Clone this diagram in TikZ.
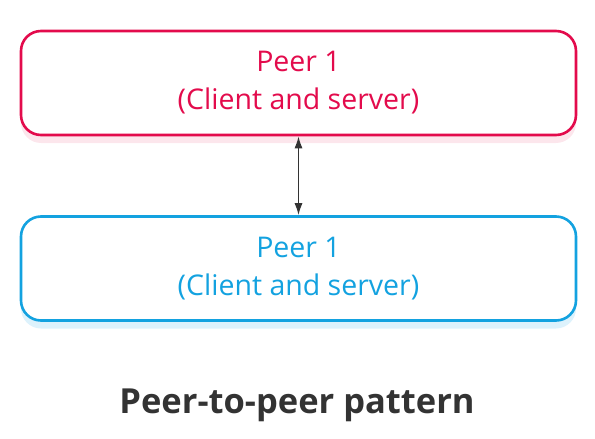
\documentclass[tikz,border=0pt]{standalone}
\usepackage{fontspec}
\setmainfont{Open Sans}
\usetikzlibrary{shadows,arrows.meta}
\definecolor{peerred}{HTML}{E30B4C}
\definecolor{peerredlight}{HTML}{FCE6EC}
\definecolor{peerblue}{HTML}{13A2E0}
\definecolor{peerbluelight}{HTML}{DDF2FC}
\definecolor{titlegray}{HTML}{333333}
\begin{document}
\begin{tikzpicture}[x=1pt,y=-1pt,
  peer/.style={draw, fill=white, rounded corners=20pt, line width=2.6pt, minimum width=555pt, minimum height=104pt, align=center, font=\fontsize{28.5}{38}\selectfont},
  redpeer/.style={peer, draw=peerred, text=peerred, general shadow={fill=peerredlight, draw=none, shadow yshift=-8pt}},
  bluepeer/.style={peer, draw=peerblue, text=peerblue, general shadow={fill=peerbluelight, draw=none, shadow yshift=-8pt}}]
  \useasboundingbox (0,0) rectangle (595,439);
  \node[redpeer] (P1) at (298.5,83) {Peer 1\\(Client and server)};
  \node[bluepeer] (P2) at (298.5,268.5) {Peer 1\\(Client and server)};
  \node[anchor=base, text=titlegray, font=\fontsize{34.5}{40}\selectfont\bfseries] (title) at (297,413) {Peer-to-peer pattern};

  \draw[{Latex[length=12pt,width=8pt]}-{Latex[length=12pt,width=8pt]}, line width=1.5pt, titlegray] (P1) -- (P2);
\end{tikzpicture}
\end{document}
